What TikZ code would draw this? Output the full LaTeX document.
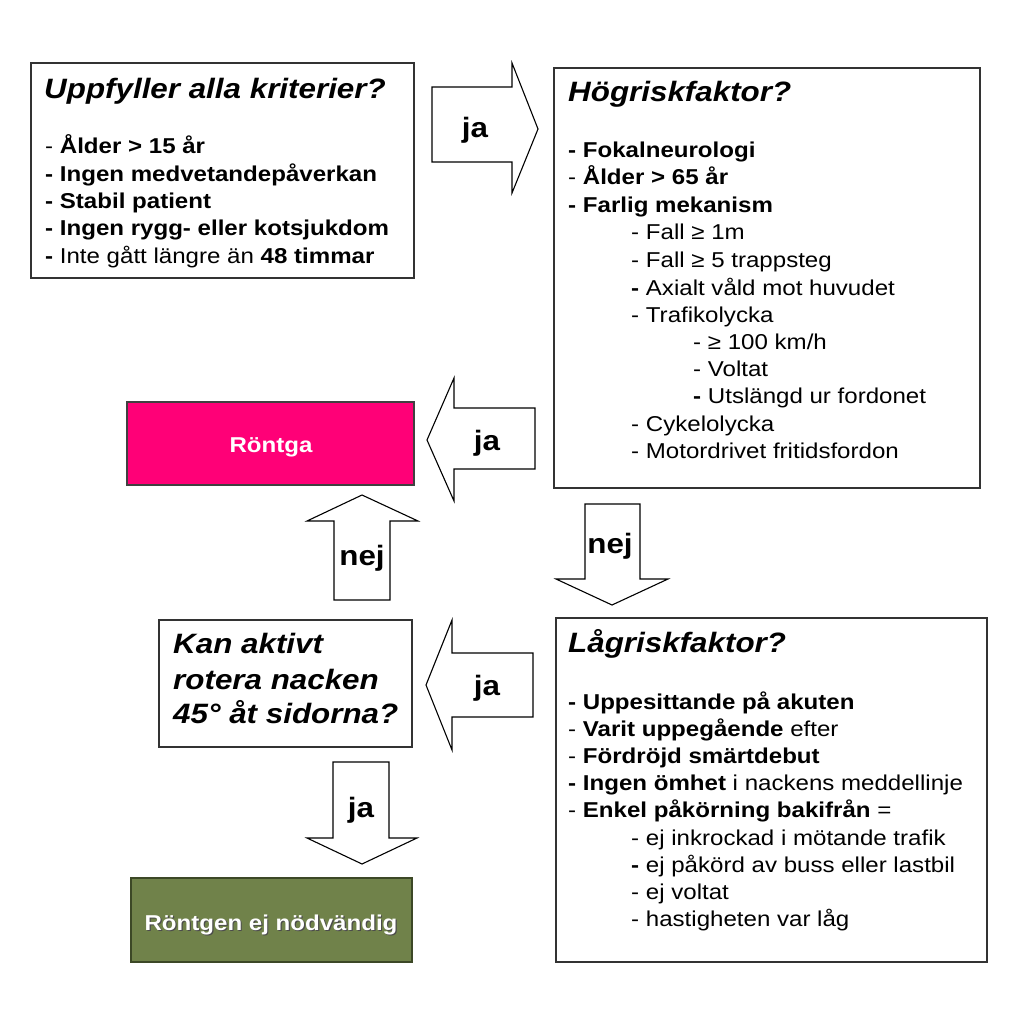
\documentclass[tikz,border=0pt]{standalone}
\usepackage{fontspec}
\setmainfont[FakeStretch=1.12]{Liberation Sans}
\definecolor{rmag}{RGB}{255,0,119}
\definecolor{rgolive}{RGB}{112,130,74}
\definecolor{rgoliveb}{RGB}{60,72,38}
\begin{document}
\begin{tikzpicture}[x=1pt,y=-1pt,
  box/.style={draw=black!80, line width=1.4pt, fill=white, inner sep=0pt},
  blk/.style={draw=black, line width=1.1pt, fill=white, line join=miter},
  lbl/.style={font=\fontsize{28}{32}\selectfont\bfseries, anchor=base, inner sep=0pt},
  ln/.style={anchor=base west, inner sep=0pt, font=\fontsize{21.5}{26}\selectfont},
  hd/.style={anchor=base west, inner sep=0pt, font=\fontsize{28}{34}\selectfont\bfseries\itshape},
  res/.style={anchor=base, inner sep=0pt, text=white, font=\fontsize{21.5}{25}\selectfont\bfseries},
]
\fill[white] (0,0) rectangle (1024,1024);

% boxes
\node[box, minimum width=383pt, minimum height=215pt] (crit) at (222.5,170.5) {};
\node[box, minimum width=426pt, minimum height=420pt] (hog) at (767,278) {};
\node[box, minimum width=431pt, minimum height=344pt] (lag) at (771.5,790) {};
\node[box, minimum width=253pt, minimum height=127pt] (kan) at (285.5,683.5) {};
\node[box, fill=rmag, draw=black!75, minimum width=287pt, minimum height=83pt] (ront) at (270.5,443.5) {};
\node[box, fill=rgolive, draw=rgoliveb, minimum width=281pt, minimum height=84pt] (ej) at (271.5,920) {};

% box 1
\node[hd] (critT) at (44,99) {Uppfyller alla kriterier?};
\node[ln] (c1) at (45,154) {- \textbf{Ålder > 15 år}};
\node[ln] (c2) at (45,182) {\textbf{- Ingen medvetandepåverkan}};
\node[ln] (c3) at (45,209) {\textbf{- Stabil patient}};
\node[ln] (c4) at (45,236) {\textbf{- Ingen rygg- eller kotsjukdom}};
\node[ln] (c5) at (45,263) {\textbf{-} Inte gått längre än \textbf{48 timmar}};

% box hog
\node[hd] (hogT) at (568,102) {Högriskfaktor?};
\node[ln] (h1) at (568,158) {\textbf{- Fokalneurologi}};
\node[ln] (h2) at (568,185) {- \textbf{Ålder > 65 år}};
\node[ln] (h3) at (568,213) {\textbf{- Farlig mekanism}};
\node[ln] (h4) at (631,240) {- Fall ≥ 1m};
\node[ln] (h5) at (631,267) {- Fall ≥ 5 trappsteg};
\node[ln] (h6) at (631,295) {\textbf{-} Axialt våld mot huvudet};
\node[ln] (h7) at (631,322) {- Trafikolycka};
\node[ln] (h8) at (693,349) {- ≥ 100 km/h};
\node[ln] (h9) at (693,376) {- Voltat};
\node[ln] (h10) at (693,403) {\textbf{-} Utslängd ur fordonet};
\node[ln] (h11) at (631,431) {- Cykelolycka};
\node[ln] (h12) at (631,458) {- Motordrivet fritidsfordon};

% box lag
\node[hd] (lagT) at (568,652) {Lågriskfaktor?};
\node[ln] (l1) at (568,709) {\textbf{- Uppesittande på akuten}};
\node[ln] (l2) at (568,736) {- \textbf{Varit uppegående} efter};
\node[ln] (l3) at (568,763) {- \textbf{Fördröjd smärtdebut}};
\node[ln] (l4) at (568,790) {\textbf{- Ingen ömhet} i nackens meddellinje};
\node[ln] (l5) at (568,817) {- \textbf{Enkel påkörning bakifrån} =};
\node[ln] (l6) at (631,845) {- ej inkrockad i mötande trafik};
\node[ln] (l7) at (631,872) {\textbf{-} ej påkörd av buss eller lastbil};
\node[ln] (l8) at (631,899) {- ej voltat};
\node[ln] (l9) at (631,926) {- hastigheten var låg};

% box kan
\node[hd] (k1) at (173,653) {Kan aktivt};
\node[hd] (k2) at (173,689) {rotera nacken};
\node[hd] (k3) at (173,723) {45° åt sidorna?};

% result texts
\node[res] (rontT) at (271,452) {Röntga};
\node[res, text=black!70] (ejS) at (272.2,931.2) {Röntgen ej nödvändig};
\node[res] (ejT) at (271,930) {Röntgen ej nödvändig};

% block arrows
\draw[blk] (432,87) -- (512,87) -- (512,63) -- (538,129) -- (512,193) -- (512,162) -- (432,162) -- cycle;
\node[lbl] (a1) at (475,138) {ja};
\draw[blk] (535,408) -- (454,408) -- (454,378) -- (427,440) -- (454,501) -- (454,469) -- (535,469) -- cycle;
\node[lbl] (a2) at (487,450) {ja};
\draw[blk] (334,600) -- (334,521) -- (307,521) -- (362,495) -- (418,521) -- (390,521) -- (390,600) -- cycle;
\node[lbl] (a3) at (362,565) {nej};
\draw[blk] (585,504) -- (640,504) -- (640,579) -- (668,579) -- (612,605) -- (556,579) -- (585,579) -- cycle;
\node[lbl] (a4) at (610,553) {nej};
\draw[blk] (533,653) -- (452,653) -- (452,620) -- (426,685) -- (452,750) -- (452,717) -- (533,717) -- cycle;
\node[lbl] (a5) at (487,695) {ja};
\draw[blk] (333,762) -- (389,762) -- (389,838) -- (417,838) -- (362,864) -- (307,838) -- (333,838) -- cycle;
\node[lbl] (a6) at (361,817) {ja};
\end{tikzpicture}
\end{document}
